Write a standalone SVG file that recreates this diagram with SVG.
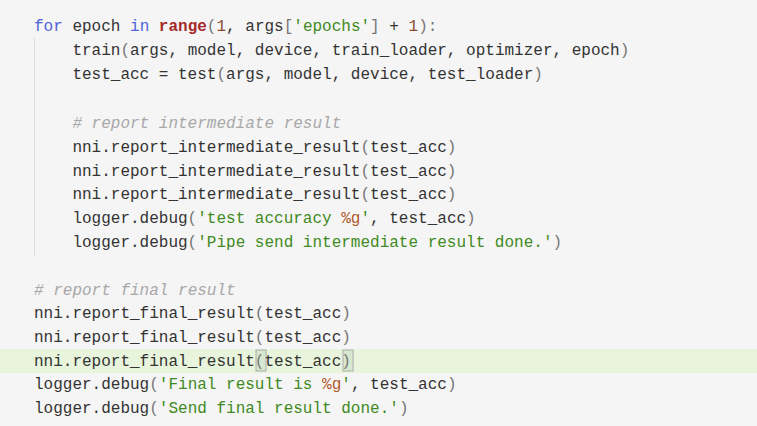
<svg xmlns="http://www.w3.org/2000/svg" width="757" height="426" viewBox="0 0 757 426">
<style>
text{font-family:"Liberation Mono","DejaVu Sans Mono",monospace;font-size:16px;fill:#333;white-space:pre}
.k{fill:#4f63d8}.b{fill:#a52a2a;font-weight:bold}.s{fill:#3f8a22}.c{fill:#a8a8a8;font-style:italic}.p{fill:#777}.n{fill:#8a4a2a}.f{fill:#b0582a}
</style>
<rect width="757" height="426" fill="#f5f5f5"/>
<rect x="0" y="349" width="757" height="24" fill="#e8f5dc"/>
<rect x="256" y="350" width="10" height="21" fill="#d8e8d0" stroke="#aaa" stroke-width="1"/>
<rect x="343" y="350" width="10" height="21" fill="#d8e8d0" stroke="#aaa" stroke-width="1"/>
<line x1="34.5" y1="38" x2="34.5" y2="256" stroke="#ddd"/>
<g id="code">
<text x="34" y="31"><tspan class="k">for</tspan> epoch <tspan class="k">in</tspan> <tspan class="b">range</tspan><tspan class="p">(</tspan><tspan class="n">1</tspan>, args<tspan class="p">[</tspan><tspan class="s">'epochs'</tspan><tspan class="p">]</tspan> + <tspan class="n">1</tspan><tspan class="p">):</tspan></text>
<text x="72.4" y="55">train<tspan class="p">(</tspan>args, model, device, train_loader, optimizer, epoch<tspan class="p">)</tspan></text>
<text x="72.4" y="79">test_acc = test<tspan class="p">(</tspan>args, model, device, test_loader<tspan class="p">)</tspan></text>
<text x="72.4" y="128" class="c"># report intermediate result</text>
<text x="72.4" y="152">nni.report_intermediate_result<tspan class="p">(</tspan>test_acc<tspan class="p">)</tspan></text>
<text x="72.4" y="176">nni.report_intermediate_result<tspan class="p">(</tspan>test_acc<tspan class="p">)</tspan></text>
<text x="72.4" y="199">nni.report_intermediate_result<tspan class="p">(</tspan>test_acc<tspan class="p">)</tspan></text>
<text x="72.4" y="223">logger.debug<tspan class="p">(</tspan><tspan class="s">'test accuracy </tspan><tspan class="f">%g</tspan><tspan class="s">'</tspan>, test_acc<tspan class="p">)</tspan></text>
<text x="72.4" y="247">logger.debug<tspan class="p">(</tspan><tspan class="s">'Pipe send intermediate result done.'</tspan><tspan class="p">)</tspan></text>
<text x="34" y="295" class="c"># report final result</text>
<text x="34" y="318">nni.report_final_result<tspan class="p">(</tspan>test_acc<tspan class="p">)</tspan></text>
<text x="34" y="342">nni.report_final_result<tspan class="p">(</tspan>test_acc<tspan class="p">)</tspan></text>
<text x="34" y="366">nni.report_final_result<tspan class="p">(</tspan>test_acc<tspan class="p">)</tspan></text>
<text x="34" y="389">logger.debug<tspan class="p">(</tspan><tspan class="s">'Final result is </tspan><tspan class="f">%g</tspan><tspan class="s">'</tspan>, test_acc<tspan class="p">)</tspan></text>
<text x="34" y="413">logger.debug<tspan class="p">(</tspan><tspan class="s">'Send final result done.'</tspan><tspan class="p">)</tspan></text>
</g>
</svg>
